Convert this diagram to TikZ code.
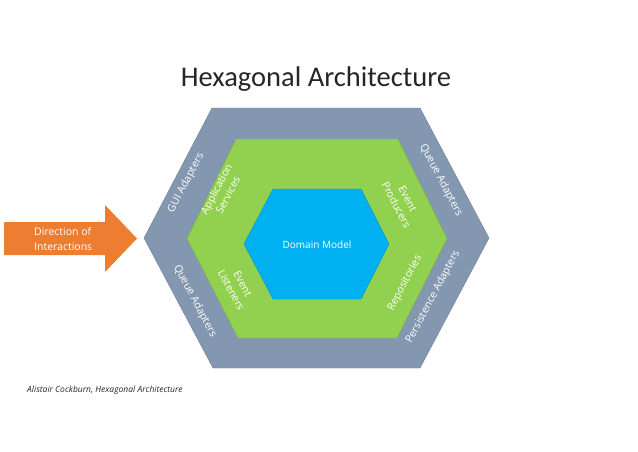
\documentclass[tikz,border=0pt]{standalone}
\usepackage{fontspec}
\setmainfont{Open Sans}
\newfontfamily\titlefont{Carlito}
\usetikzlibrary{positioning}
\definecolor{hexslate}{HTML}{8497B0}
\definecolor{hexgreen}{HTML}{92D050}
\definecolor{hexblue}{HTML}{00B0F0}
\definecolor{hexorange}{HTML}{ED7D31}

\begin{document}
\begin{tikzpicture}[x=1pt, y=-1pt, every node/.style={font=\fontsize{10.5}{13}\selectfont, text=white, inner sep=0pt}]
  \tikzset{
    layer/.style={draw=#1!85!black, line width=0.4pt, fill=#1},
    band/.style={align=center},
    upleft/.style={band, rotate=62},
    downright/.style={band, rotate=-62}
  }
  \useasboundingbox (0,0) rectangle (638,451);

  % the three rings
  \draw[layer=hexslate] (212,108) -- (420,108) -- (489,238) -- (420,368) -- (213,368) -- (144,238) -- cycle;
  \draw[layer=hexgreen] (236,139) -- (398,139) -- (447,238.5) -- (397,338) -- (238,338) -- (187,238.5) -- cycle;
  \draw[layer=hexblue] (273,189) -- (361,189) -- (389,244) -- (361,299) -- (273,299) -- (244,244) -- cycle;

  % direction arrow
  \fill[hexorange] (4,222) -- (105,222) -- (105,205) -- (137,238.5) -- (105,272) -- (105,255) -- (4,255) -- cycle;
  \node[anchor=west, align=left, font=\fontsize{10.5}{14.5}\selectfont] (direction) at (34,239) {Direction of\\Interactions};

  \node[text=black!85, anchor=base] (title) at (316,86) {\titlefont\fontsize{28.5}{34}\selectfont Hexagonal Architecture};

  \node[font=\fontsize{10}{12}\selectfont] (domain) at (317,245) {Domain Model};

  \node[upleft] (gui) at (186,183) {GUI Adapters};
  \node[upleft] (appserv) at (222,192) {Application\\Services};
  \node[downright] (queuetop) at (441,180) {Queue Adapters};
  \node[downright] (producers) at (402,202) {Event\\Producers};
  \node[downright] (queuebot) at (195,301) {Queue Adapters};
  \node[downright] (listeners) at (237,287) {Event\\Listeners};
  \node[upleft] (persist) at (433,297) {Persistence Adapters};
  \node[upleft] (repos) at (405,283) {Repositories};

  \node[text=black!85, anchor=base west, font=\fontsize{8.5}{10}\selectfont\itshape] (credit) at (27,392) {Alistair Cockburn, Hexagonal Architecture};
\end{tikzpicture}
\end{document}
